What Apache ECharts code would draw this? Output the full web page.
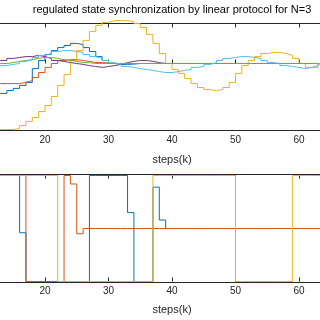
<!DOCTYPE html>
<html>
<head>
<meta charset="utf-8">
<script src="https://cdn.jsdelivr.net/npm/echarts@6/dist/echarts.min.js"></script>
<style>
  html, body {margin: 0; padding: 0; background: #fff;}
  #chart {width: 320px; height: 320px;}
</style>
</head>
<body>
<div id="chart"></div>
<script>
// step index k (the picture is cropped, only ~13..63 is visible)
const steps = [12, 13, 14, 15, 16, 17, 18, 19, 20, 21, 22, 23, 24, 25, 26, 27, 28, 29, 30, 31,
  32, 33, 34, 35, 36, 37, 38, 39, 40, 41, 42, 43, 44, 45, 46, 47, 48, 49, 50, 51,
  52, 53, 54, 55, 56, 57, 58, 59, 60, 61, 62, 63, 64];

// top plot: regulated states
const state1 = [-1.0, -1.0, -0.9, -0.83, -0.73, -0.63, -0.17, 0.1, 0.3, 0.43, 0.53, 0.6, 0.67, 0.63, 0.53, 0.4, 0.23, 0.1, 0, -0.03,
  -0.03, -0.02, 0, 0, 0, 0, 0, 0, 0, 0, 0, 0, 0, 0, 0, 0, 0, 0, 0, 0,
  0, 0, 0, 0, 0, 0, 0, 0, 0, 0, 0, 0, 0];
const state2 = [-0.67, -0.67, -0.67, -0.67, -0.63, -0.57, -0.47, -0.3, -0.13, 0, 0.1, 0.13, 0.13, 0.1, 0.07, 0.03, 0.03, 0.02, 0, 0,
  0, 0, 0, 0, 0, 0, 0, 0, 0, 0, 0, 0, 0, 0, 0, 0, 0, 0, 0, 0,
  0, 0, 0, 0, 0, 0, 0, 0, 0, 0, 0, 0, 0];
const state3 = [-2.2, -2.2, -2.2, -2.17, -2.07, -1.93, -1.8, -1.6, -1.4, -1.1, -0.73, -0.37, 0.1, 0.43, 0.77, 1.07, 1.27, 1.37, 1.43, 1.43,
  1.43, 1.4, 1.33, 1.2, 0.97, 0.67, 0.33, 0, -0.2, -0.33, -0.5, -0.67, -0.8, -0.87, -0.9, -0.87, -0.8, -0.63, -0.33, -0.07,
  0.1, 0.23, 0.33, 0.37, 0.37, 0.33, 0.27, 0.17, 0, -0.13, -0.13, -0.03, 0];
const state4 = [0.1, 0.1, 0.17, 0.2, 0.23, 0.23, 0.27, 0.23, 0.17, 0.1, 0.07, 0.03, 0, -0.03, -0.07, -0.1, -0.13, -0.1, -0.07, -0.03,
  0.03, 0.07, 0.1, 0.1, 0.07, 0.03, 0, 0, 0, 0, 0, 0, 0, 0, 0, 0, 0, 0, 0, 0,
  0, 0, 0, 0, 0, 0, 0, 0, 0, 0, 0, 0, 0];
const state5 = [0, 0, 0.03, 0.07, 0.1, 0.13, 0.17, 0.2, 0.2, 0.17, 0.13, 0.1, 0.07, 0.03, 0.03, 0, 0, 0, 0, 0,
  0, 0, 0, 0, 0, 0, 0, 0, 0, 0, 0, 0, 0, 0, 0, 0, 0, 0, 0, 0,
  0, 0, 0, 0, 0, 0, 0, 0, 0, 0, 0, 0, 0];
const state6 = [-0.07, -0.07, -0.03, 0, 0.07, 0.13, 0.2, 0.27, 0.33, 0.4, 0.43, 0.43, 0.4, 0.37, 0.3, 0.23, 0.17, 0.1, 0.03, -0.03,
  -0.1, -0.13, -0.17, -0.2, -0.23, -0.27, -0.3, -0.3, -0.27, -0.23, -0.2, -0.13, -0.1, -0.03, 0.03, 0.1, 0.17, 0.2, 0.23, 0.23,
  0.2, 0.17, 0.1, 0.03, 0, -0.07, -0.1, -0.13, -0.17, -0.13, -0.07, 0, 0.03];

// bottom plot: switching signals
const switch1 = [1, 1, 1, 1, 0.46, 0, 0, 0, 0, 0, 0, 0, 0, 0, 0, 1, 1, 1, 1, 1,
  1, 0.65, 0, 0, 0, 0.89, 0.58, 0.5, 0.5, 0.5, 0.5, 0.5, 0.5, 0.5, 0.5, 0.5, 0.5, 0.5, 0.5, 0.5,
  0.5, 0.5, 0.5, 0.5, 0.5, 0.5, 0.5, 0.5, 0.5, 0.5, 0.5, 0.5, 0.5];
const switch2 = [1, 1, 1, 1, 1, 0, 0, 0, 0, 0, 0, 1, 0.92, 0.45, 0.5, 0.5, 0.5, 0.5, 0.5, 0.5,
  0.5, 0.5, 0.5, 0.5, 0.5, 0.5, 0.5, 0.5, 0.5, 0.5, 0.5, 0.5, 0.5, 0.5, 0.5, 0.5, 0.5, 0.5, 0.5, 0.5,
  0.5, 0.5, 0.5, 0.5, 0.5, 0.5, 0.5, 0.5, 0.5, 0.5, 0.5, 0.5, 0.5];
const switch3 = [1, 1, 1, 1, 1, 1, 1, 1, 1, 1, 0, 0, 0, 0, 0, 0, 0, 0, 0, 0,
  0, 0, 0, 0, 0, 1, 1, 1, 1, 1, 1, 1, 1, 1, 1, 1, 1, 1, 0, 0,
  0, 0, 0, 0, 0, 0, 0, 1, 1, 1, 1, 1, 1];

const colors = ['#0072BD', '#D95319', '#EDB120', '#7E2F8E', '#77AC30', '#4DBEEE'];
const axisColor = '#262626';
const font = 'Liberation Sans, Arial, sans-serif';

const chart = echarts.init(document.getElementById('chart'));

const xAxisOf = (gridIndex, position, extra) => Object.assign({
  type: 'value',
  gridIndex: gridIndex,
  position: position,
  min: 10,
  max: 70,
  interval: 10,
  axisLine: {show: false},
  axisTick: {show: true, inside: true, length: 4, lineStyle: {color: axisColor}},
  splitLine: {show: false},
  axisLabel: {show: position === 'bottom', color: axisColor, fontSize: 10, margin: 5, fontFamily: font},
  nameTextStyle: {color: axisColor, fontSize: 11, fontFamily: font}
}, extra);

// MATLAB-style stairs: value held until the next step
const stairs = (values, color, xIdx, yIdx) => ({
  type: 'line',
  step: 'end',
  xAxisIndex: xIdx,
  yAxisIndex: yIdx,
  data: steps.map((k, i) => [k, values[i]]),
  symbol: 'none',
  clip: false,
  lineStyle: {color: color, width: 1},
  emphasis: {disabled: true}
});

// the box is the grid border; the y ranges keep a 1px gap so the edge data stays visible
const box = {show: true, borderColor: axisColor, borderWidth: 1, backgroundColor: 'transparent',
  outerBoundsMode: 'none', containLabel: false};

chart.setOption({
  animation: false,
  grid: [
    // plot area is wider than the window: the figure is cropped on both sides
    Object.assign({left: -18.5, width: 381, top: 23.5, height: 107}, box),
    Object.assign({left: -18.5, width: 381, top: 174.5, height: 108}, box)
  ],
  xAxis: [
    xAxisOf(0, 'bottom', {name: 'steps(k)', nameLocation: 'middle', nameGap: 24}),
    xAxisOf(0, 'top', {
      name: 'regulated state synchronization by linear protocol for N=3',
      nameLocation: 'middle', nameGap: 8,
      nameTextStyle: {color: '#000', fontSize: 11, fontFamily: font}
    }),
    xAxisOf(1, 'bottom', {name: 'steps(k)', nameLocation: 'middle', nameGap: 22, axisLabel: {color: axisColor, fontSize: 10, margin: 4, fontFamily: font}}),
    xAxisOf(1, 'top')
  ],
  yAxis: [
    {type: 'value', gridIndex: 0, min: -2.2333, max: 1.3333, show: false},
    {type: 'value', gridIndex: 1, min: -0.00943, max: 1.00943, show: false}
  ],
  series: [
    stairs(state1, colors[0], 0, 0),
    stairs(state2, colors[1], 0, 0),
    stairs(state3, colors[2], 0, 0),
    stairs(state4, colors[3], 0, 0),
    stairs(state5, colors[4], 0, 0),
    stairs(state6, colors[5], 0, 0),
    stairs(switch1, colors[0], 2, 1),
    stairs(switch2, colors[1], 2, 1),
    stairs(switch3, colors[2], 2, 1)
  ]
});
</script>
</body>
</html>
